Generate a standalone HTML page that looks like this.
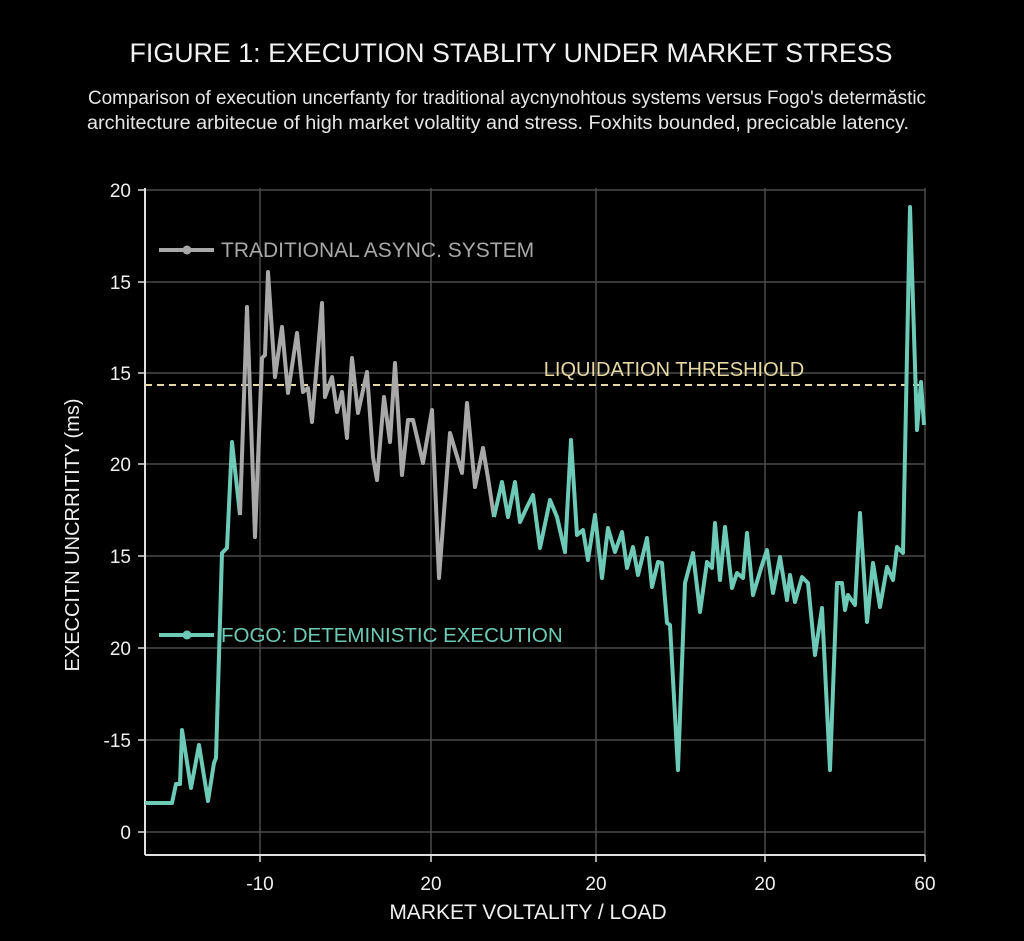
<!DOCTYPE html>
<html><head><meta charset="utf-8">
<style>
html,body{margin:0;padding:0;background:#000;}
body{width:1024px;height:936px;overflow:hidden;font-family:"Liberation Sans",Arial,sans-serif;}
</style></head>
<body>
<svg id="chart" width="1024" height="936" viewBox="0 0 1024 936" xmlns="http://www.w3.org/2000/svg">
<rect x="0" y="0" width="1024" height="936" fill="#000"/>
<text x="511" y="62" text-anchor="middle" fill="#f2f2f2" font-size="27" font-family="Liberation Sans, sans-serif" textLength="763" lengthAdjust="spacingAndGlyphs">FIGURE 1: EXECUTION STABLITY UNDER MARKET STRESS</text>
<text x="507" y="104" text-anchor="middle" fill="#e6e6e6" font-size="19" font-family="Liberation Sans, sans-serif" textLength="838" lengthAdjust="spacingAndGlyphs">Comparison of execution uncerfanty for traditional aycnynohtous systems versus Fogo's determăstic</text>
<text x="498" y="129" text-anchor="middle" fill="#e6e6e6" font-size="19" font-family="Liberation Sans, sans-serif" textLength="822" lengthAdjust="spacingAndGlyphs">architecture arbitecue of high market volaltity and stress. Foxhits bounded, precicable latency.</text>
<g id="grid"></g>
<g id="axes"></g>
<g id="series"></g>
<g id="legend"></g>
<text transform="translate(79,535) rotate(-90)" text-anchor="middle" fill="#f0f0f0" font-size="20" font-family="Liberation Sans, sans-serif">EXECCITN UNCRRITITY  (ms)</text>
<text x="528" y="919" text-anchor="middle" fill="#f0f0f0" font-size="21" font-family="Liberation Sans, sans-serif">MARKET VOLTALITY / LOAD</text>
</svg>
<script>
// ---- data ----
const yTickValues = [23, 115, 207, 299, 391, 482, 573, 665];
const yTickLabels = ["0", "-15", "20", "15", "20", "15", "15", "20"];
const xTickValues = [115, 286, 451, 620, 780];
const xTickLabels = ["-10", "20", "20", "20", "60"];
const thresholdValue = 470;
const fogoStartX = [0,27,31,35,37,46,54,63,69,71,77,82,87,95];
const fogoStartY = [52,52,71,71,125,67,110,54,92,97,302,307,413,340];
const tradX = [95,102,110,117,120,123,130,137,143,152,158,163,167,177,180,187,192,197,202,207,213,222,228,232,239,245,250,257,263,268,278,287,294,305,317,322,330,338,343,349];
const tradY = [340,548,318,497,500,583,478,528,462,522,463,467,433,552,458,478,443,463,417,497,442,483,398,375,458,413,492,380,435,435,392,445,277,422,382,452,368,407,377,338];
const fogoX = [349,357,363,370,375,382,388,395,405,412,420,426,432,438,443,450,457,463,470,477,482,488,493,502,507,513,517,522,525,533,540,548,555,562,567,570,575,580,587,592,598,602,608,617,622,628,635,642,645,650,657,663,670,677,685,692,697,700,703,710,715,722,728,735,742,748,752,758,765,772,776,779];
const fogoY = [338,373,338,373,333,348,360,307,355,338,303,415,320,325,295,340,277,327,303,323,287,308,280,317,268,293,292,232,230,85,272,302,243,293,287,332,275,328,267,282,277,322,260,290,305,262,298,255,280,253,278,272,200,247,85,272,272,245,260,250,342,233,292,248,288,275,308,302,648,425,473,430];

// ---- scales ----
const X0=145, X1=925, Y0=855, Y1=188;
const xDomain=[0,780], yDomain=[0,667];
function sx(v){return X0+(v-xDomain[0])/(xDomain[1]-xDomain[0])*(X1-X0);}
function sy(v){return Y0-(v-yDomain[0])/(yDomain[1]-yDomain[0])*(Y0-Y1);}
const NS="http://www.w3.org/2000/svg";
function mk(tag,attrs,parent){const e=document.createElementNS(NS,tag);for(const k in attrs)e.setAttribute(k,attrs[k]);parent.appendChild(e);return e;}
const grid=document.getElementById('grid'), axes=document.getElementById('axes'), series=document.getElementById('series'), legend=document.getElementById('legend');

yTickValues.forEach((v,i)=>{
  const y=sy(v);
  const g=mk('line',{x1:X0,x2:X1,y1:y,y2:y,stroke:'#4a4a4a','stroke-width':1.5},grid);
  
  
  const t=mk('line',{x1:X0-7,x2:X0,y1:y,y2:y,stroke:'#ddd','stroke-width':1.5},axes);
  
  
  const l=mk('text',{x:X0-14,y:y+7,'text-anchor':'end',fill:'#f0f0f0','font-size':19},axes);
  l.textContent=yTickLabels[i];
  
  
});
xTickValues.forEach((v,i)=>{
  const x=sx(v);
  const g=mk('line',{x1:x,x2:x,y1:Y1,y2:Y0,stroke:'#4a4a4a','stroke-width':1.5},grid);
  
  
  const t=mk('line',{x1:x,x2:x,y1:Y0,y2:Y0+7,stroke:'#ddd','stroke-width':1.5},axes);
  
  
  const l=mk('text',{x:x,y:Y0+35,'text-anchor':'middle',fill:'#f0f0f0','font-size':19},axes);
  l.textContent=xTickLabels[i];
  
  
});
const ya=mk('line',{x1:X0,x2:X0,y1:Y1,y2:Y0,stroke:'#e0e0e0','stroke-width':2},axes);


const xa=mk('line',{x1:X0,x2:X1,y1:Y0,y2:Y0,stroke:'#e0e0e0','stroke-width':2},axes);



const th=mk('line',{x1:X0,x2:X1,y1:sy(thresholdValue),y2:sy(thresholdValue),stroke:'#e6d9a2','stroke-width':2,'stroke-dasharray':'7 5'},series);


const thl=mk('text',{x:674,y:sy(thresholdValue)-9,'text-anchor':'middle',fill:'#e6d9a2','font-size':20},series);
thl.textContent='LIQUIDATION THRESHIOLD';



function pts(xs,ys){return xs.map((x,i)=>sx(x).toFixed(1)+','+sy(ys[i]).toFixed(1)).join(' ');}
const p1=mk('polyline',{points:pts(fogoStartX,fogoStartY),fill:'none',stroke:'#6ccab7','stroke-width':4,'stroke-linejoin':'round'},series);


const p2=mk('polyline',{points:pts(tradX,tradY),fill:'none',stroke:'#a8a8a8','stroke-width':4,'stroke-linejoin':'round'},series);


const p3=mk('polyline',{points:pts(fogoX,fogoY),fill:'none',stroke:'#6ccab7','stroke-width':4,'stroke-linejoin':'round'},series);



function legendEntry(y,color,label,name,fs){
  const g=mk('g',{},legend);
  
  
  mk('line',{x1:159,x2:214,y1:y,y2:y,stroke:color,'stroke-width':4},g);
  mk('circle',{cx:187,cy:y,r:4.5,fill:color},g);
  const t=mk('text',{x:221,y:y+7,fill:color,'font-size':fs},g);
  t.textContent=label;
}
legendEntry(250,'#a8a8a8','TRADITIONAL ASYNC. SYSTEM','legend-entry-traditional',21);
legendEntry(635,'#6ccab7','FOGO: DETEMINISTIC EXECUTION','legend-entry-fogo',20.5);
</script>
</body></html>
